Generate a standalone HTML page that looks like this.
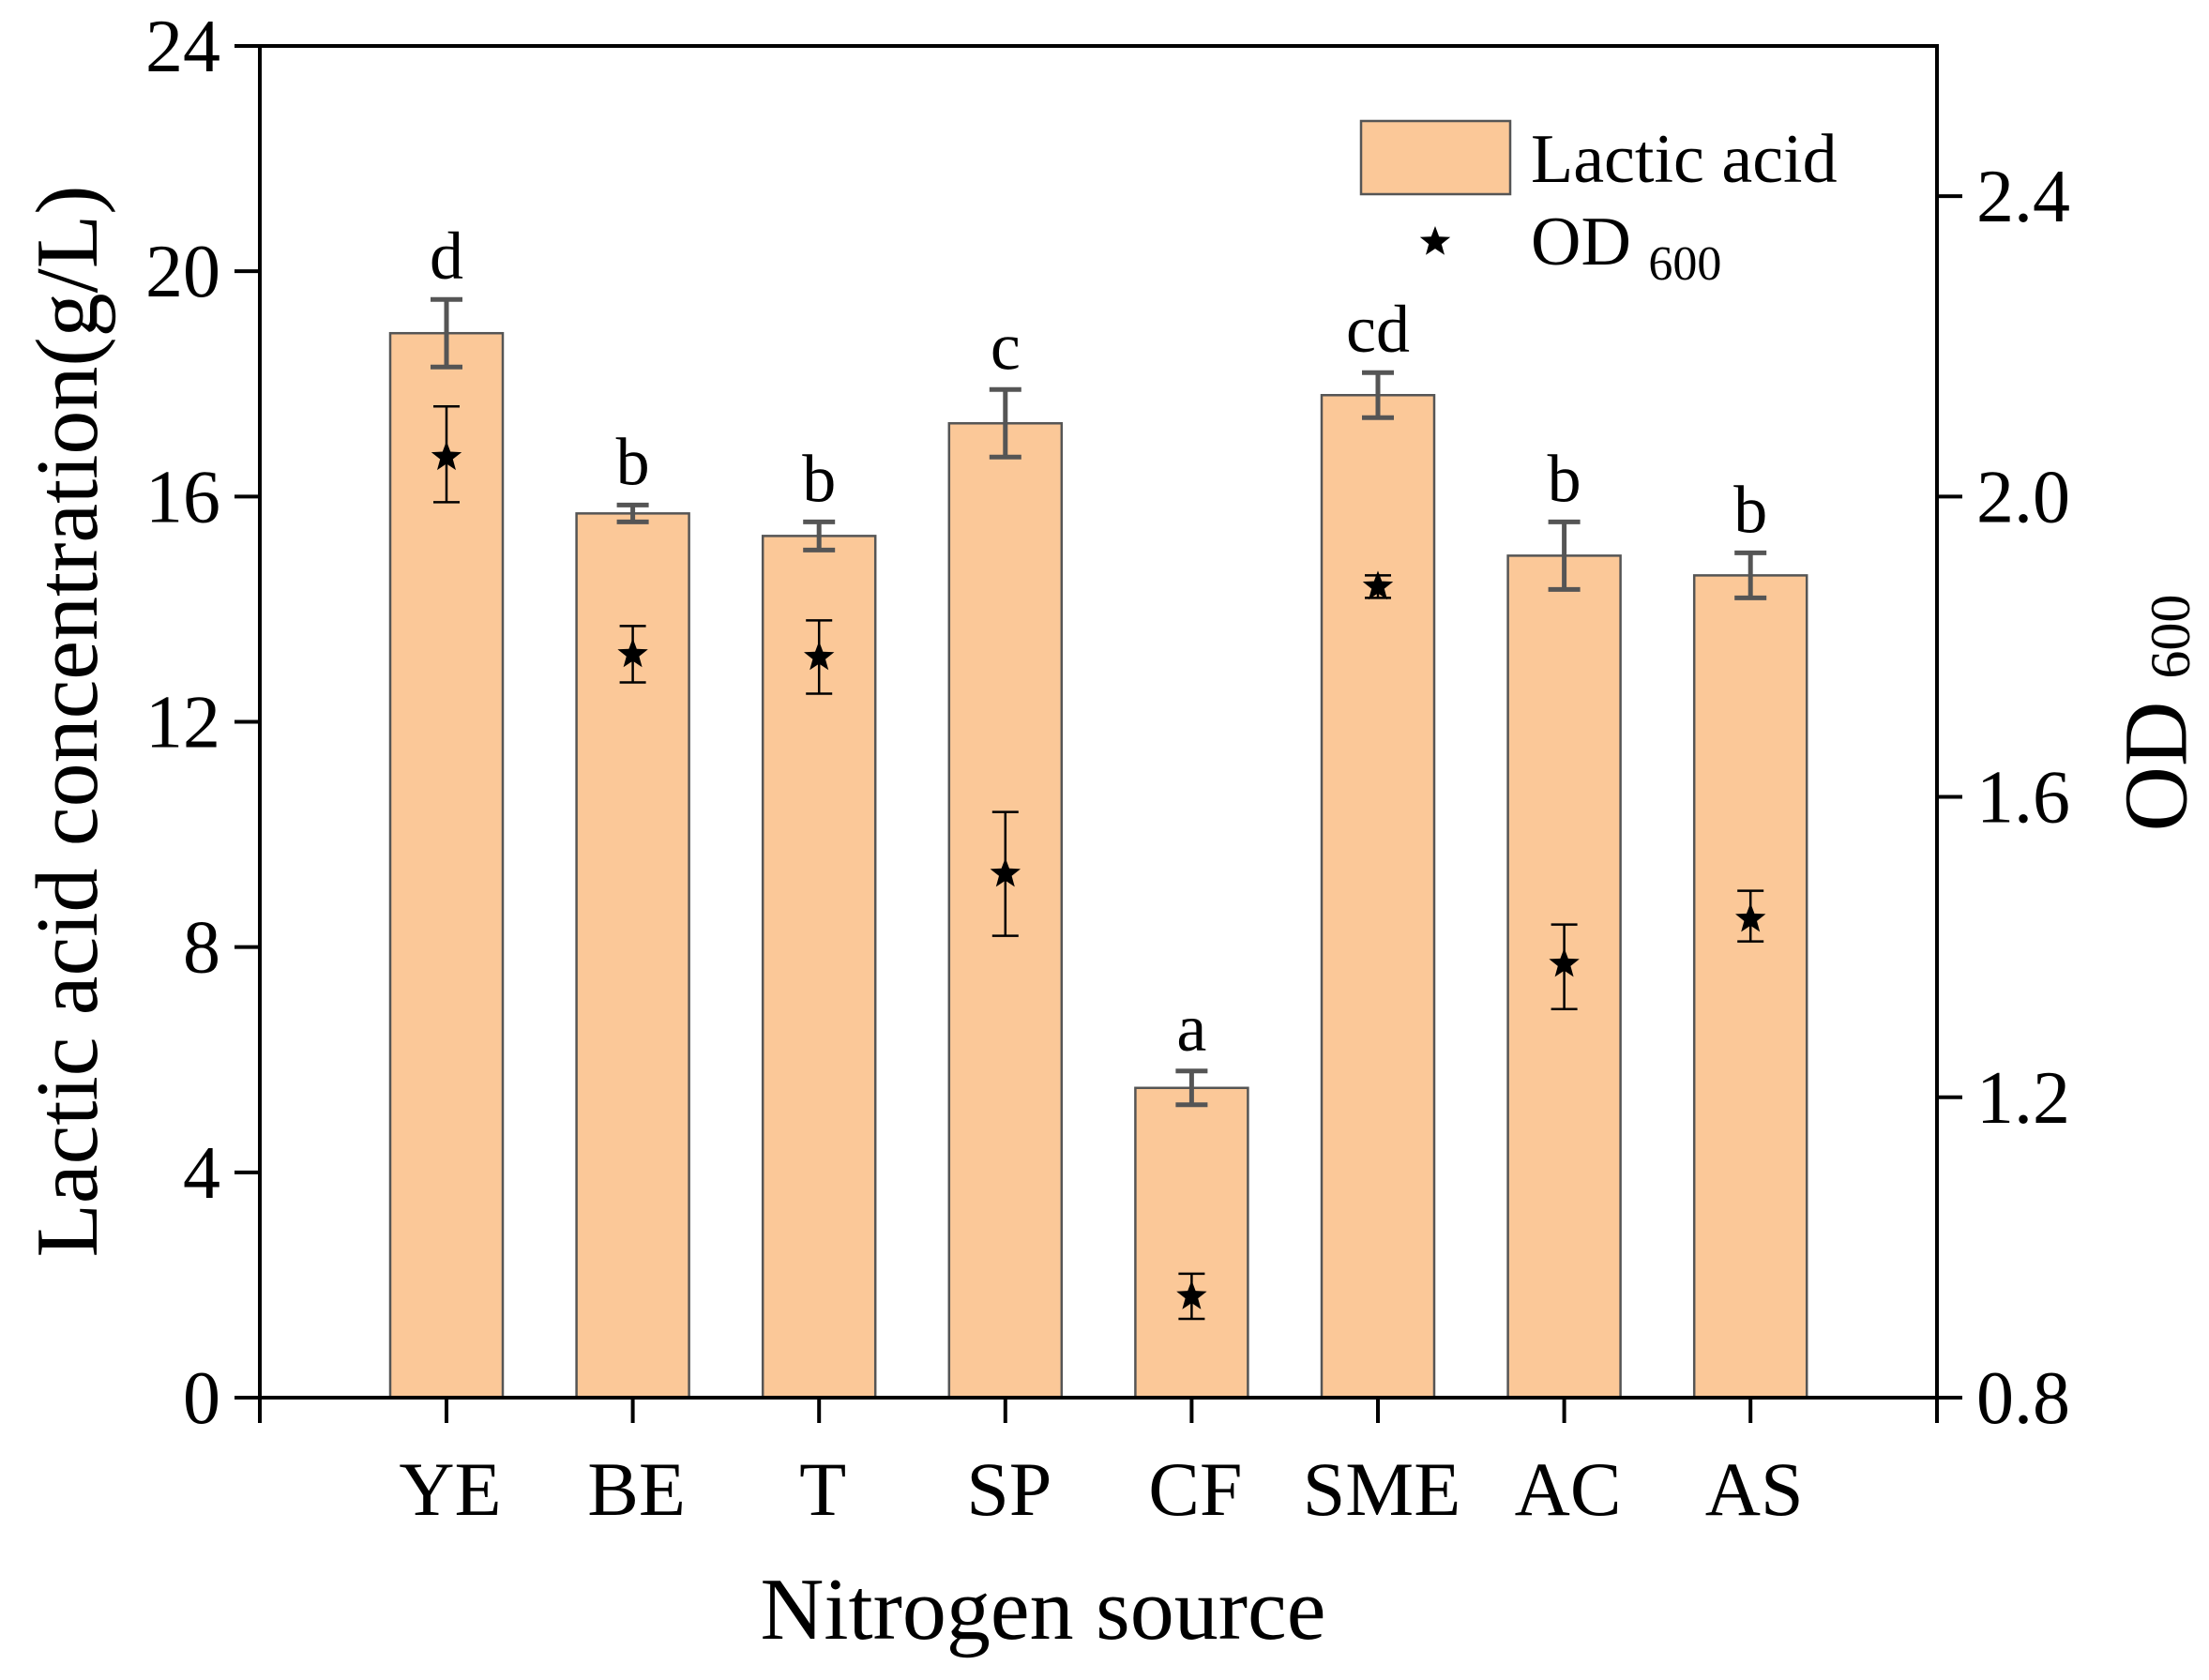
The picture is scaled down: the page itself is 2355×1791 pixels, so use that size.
<!DOCTYPE html>
<html><head><meta charset="utf-8"><style>html,body{margin:0;padding:0;background:#fff}</style></head>
<body>
<svg id="c" width="2355" height="1786" xmlns="http://www.w3.org/2000/svg" font-family="'Liberation Serif', serif">
</svg>
<script>
const s=document.getElementById('c');const NS='http://www.w3.org/2000/svg';
function el(t,a,txt){const e=document.createElementNS(NS,t);for(const k in a)e.setAttribute(k,a[k]);if(txt!==undefined)e.textContent=txt;s.appendChild(e);return e;}
const L=277,R=2065,T=49,B=1490;const yv=v=>B-v*(B-T)/24;
const names=['YE','BE','T','SP','CF','SME','AC','AS'];
const bars=[18.9,15.7,15.3,17.3,5.5,17.8,14.95,14.6];
const be=[0.6,0.15,0.25,0.6,0.3,0.4,0.6,0.4];
const lets=['d','b','b','c','a','cd','b','b'];
const od=[16.7,13.2,13.15,9.3,1.8,14.4,7.7,8.5];
const ot=[17.6,13.7,13.8,10.4,2.2,14.6,8.4,9.0];
const ob=[15.9,12.7,12.5,8.2,1.4,14.2,6.9,8.1];
function star(cx,cy,r){let p=[];for(let i=0;i<10;i++){const a=-Math.PI/2+i*Math.PI/5;const rr=i%2?r*0.42:r;p.push((cx+rr*Math.cos(a)).toFixed(1)+','+(cy+rr*Math.sin(a)).toFixed(1));}el('polygon',{points:p.join(' '),fill:'#000'});}
for(let i=0;i<8;i++){
 const cx=476+i*198.6;
 el('rect',{x:cx-60,y:yv(bars[i]),width:120,height:B-yv(bars[i]),fill:'#FBC898',stroke:'#555',"stroke-width":2.5});
 const t=yv(bars[i]+be[i]),b=yv(bars[i]-be[i]);
 el('line',{x1:cx,y1:t,x2:cx,y2:b,stroke:'#555',"stroke-width":5});
 el('line',{x1:cx-17,y1:t,x2:cx+17,y2:t,stroke:'#555',"stroke-width":5});
 el('line',{x1:cx-17,y1:b,x2:cx+17,y2:b,stroke:'#555',"stroke-width":5});
 el('text',{x:cx,y:t-22,"font-size":72,"text-anchor":"middle"},lets[i]);
 const t2=yv(ot[i]),b2=yv(ob[i]);
 el('line',{x1:cx,y1:t2,x2:cx,y2:b2,stroke:'#000',"stroke-width":2.5});
 el('line',{x1:cx-14,y1:t2,x2:cx+14,y2:t2,stroke:'#000',"stroke-width":2.5});
 el('line',{x1:cx-14,y1:b2,x2:cx+14,y2:b2,stroke:'#000',"stroke-width":2.5});
 star(cx,yv(od[i]),17);
 el('line',{x1:cx,y1:B,x2:cx,y2:B+27,stroke:'#000',"stroke-width":4});
 el('text',{x:cx+4,y:1615,"font-size":82,"text-anchor":"middle"},names[i]);
}
el('rect',{x:L,y:T,width:R-L,height:B-T,fill:'none',stroke:'#000',"stroke-width":4});
[L,R].forEach(x=>el('line',{x1:x,y1:B,x2:x,y2:B+27,stroke:'#000',"stroke-width":4}));
for(let v=0;v<=24;v+=4){const y=yv(v);el('line',{x1:L-27,y1:y,x2:L,y2:y,stroke:'#000',"stroke-width":4});el('text',{x:L-42,y:y+27,"font-size":80,"text-anchor":"end"},v);}
[0.8,1.2,1.6,2.0,2.4].forEach(v=>{const y=B-(v-0.8)*(B-T)/1.8;el('line',{x1:R,y1:y,x2:R+27,y2:y,stroke:'#000',"stroke-width":4});el('text',{x:R+42,y:y+27,"font-size":80},v.toFixed(1));});
el('text',{x:72,y:769,"font-size":94,"text-anchor":"middle",transform:"rotate(-90 72 769)","dominant-baseline":"central"},'Lactic acid concentration(g/L)');
const g=el('text',{x:2298,y:760,"font-size":96,"text-anchor":"middle",transform:"rotate(-90 2298 760)","dominant-baseline":"central"});
g.innerHTML='OD <tspan font-size="60" dy="16">600</tspan>';
el('text',{x:1112,y:1747,"font-size":94,"text-anchor":"middle"},'Nitrogen source');
el('rect',{x:1451,y:129,width:159,height:78,fill:'#FBC898',stroke:'#555',"stroke-width":2.5});
el('text',{x:1632,y:194,"font-size":74},'Lactic acid');
star(1530,258,17);
const o=el('text',{x:1632,y:282,"font-size":74});o.innerHTML='OD <tspan font-size="52" dy="16">600</tspan>';
</script>
</body></html>
